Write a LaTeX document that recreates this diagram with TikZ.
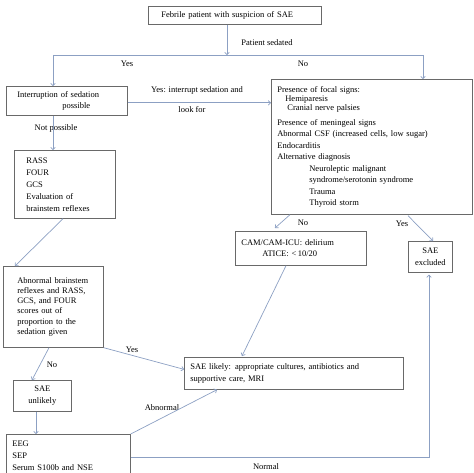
\documentclass[tikz,border=0pt]{standalone}
\usepackage{fontspec}
\setmainfont{Liberation Serif}
\usetikzlibrary{calc,arrows.meta}
\definecolor{boxgray}{RGB}{105,105,105}
\definecolor{flowblue}{RGB}{140,160,195}
\newcommand{\flowfont}{\fontsize{8.5}{11.5}\selectfont}

\begin{document}
\begin{tikzpicture}[x=1pt,y=-1pt,every node/.style={font=\flowfont,inner sep=0pt},
  box/.style={draw=boxgray,line width=0.7pt,anchor=north west,align=left,inner xsep=6pt},
  flowline/.style={draw=flowblue,line width=0.7pt},
  flow/.style={flowline,-{To[length=3pt,width=5pt]}}]
\useasboundingbox (0,0) rectangle (474,473);
% boxes
\node [box,text width=147pt,inner xsep=13pt,minimum height=18pt] (Febrile) at (148,6) {Febrile patient with suspicion of SAE};
\node [box,text width=99pt,inner xsep=11pt,minimum height=29pt] (Interrupt) at (6,86) {Interruption of sedation\\\hspace*{45pt}possible};
\node [box,text width=189pt,minimum height=135pt] (Focal) at (271,79) {Presence of focal signs:\\[-2.5pt]\hspace*{8pt}Hemiparesis\\[-2pt]\hspace*{10pt}Cranial nerve palsies\\[3pt]Presence of meningeal signs\\Abnormal CSF (increased cells, low sugar)\\Endocarditis\\Alternative diagnosis\\\hspace*{32pt}Neuroleptic malignant\\\hspace*{32pt}syndrome/serotonin syndrome\\\hspace*{32pt}Trauma\\\hspace*{32pt}Thyroid storm};
\node [box,text width=77pt,inner xsep=12pt,minimum height=68pt,font=\fontsize{8.5}{12}\selectfont] (Rass) at (14,150) {RASS\\FOUR\\GCS\\Evaluation of\\brainstem reflexes};
\node [box,text width=72pt,inner xsep=14pt,minimum height=81pt,font=\fontsize{8.5}{10.2}\selectfont] (Abnormal) at (3,266) {Abnormal brainstem\\reflexes and RASS,\\GCS, and FOUR\\scores out of\\proportion to the\\sedation given};
\node [box,text width=50pt,inner xsep=4pt,minimum height=31pt,align=center,font=\fontsize{8.5}{12}\selectfont] (Unlikely) at (13,380) {SAE\\unlikely};
\node [box,text width=112pt,minimum height=42pt,font=\fontsize{8.5}{12}\selectfont] (Eeg) at (6,434) {EEG\\SEP\\Serum S100b and NSE};
\node [box,text width=207pt,minimum height=32pt,font=\fontsize{8.5}{12}\selectfont] (Likely) at (184,357) {SAE likely: appropriate cultures, antibiotics and\\supportive care, MRI};
\node [box,text width=119pt,minimum height=34pt,font=\fontsize{8.5}{10.5}\selectfont] (Cam) at (235,231) {CAM/CAM-ICU: delirium\\\hspace*{21pt}ATICE: <\,10/20};
\node [box,text width=38pt,inner xsep=3pt,minimum height=31pt,align=center] (Excluded) at (408,241) {SAE\\excluded};
% labels
\node (PatSedated) at (267,43) {Patient sedated};
\node (YesSed) at (127,64) {Yes};
\node (NoSed) at (303,64) {No};
\node (YesInt) at (197,90) {Yes: interrupt sedation and};
\node (LookFor) at (192,110) {look for};
\node (NotPossible) at (56,128) {Not possible};
\node (NoAbn) at (52,365) {No};
\node (YesAbn) at (132,350) {Yes};
\node (AbnEeg) at (162,408) {Abnormal};
\node (NormEeg) at (266,467) {Normal};
\node (NoFocal) at (303,223) {No};
\node (YesFocal) at (402,224) {Yes};
% connectors
\coordinate (Split) at (227,55);
\coordinate (SplitL) at (53,55);
\coordinate (SplitR) at (423,55);
\coordinate (NormCorner) at (429,457);
\draw [flow] (Split |- Febrile.south) -- (Split);
\draw [flowline] (SplitL) -- (SplitR);
\draw [flow] (SplitL) -- (SplitL |- Interrupt.north);
\draw [flow] (SplitR) -- (SplitR |- Focal.north);
\draw [flow] ($(Interrupt.east)+(0,2)$) -- ($(Interrupt.east -| Focal.west)+(0,2)$);
\draw [flow] (SplitL |- Interrupt.south) -- (SplitL |- Rass.north);
\draw [flow] ($(Rass.south west)+(49,0)$) -- ($(Abnormal.north west)+(12,0)$);
\draw [flow] ($(Abnormal.south west)+(46,0)$) -- ($(Unlikely.north west)+(19,0)$);
\draw [flow] (Abnormal.south east) -- ($(Likely.west)+(0,-4)$);
\draw [flow] ($(Unlikely.south west)+(23,0)$) -- ($(Eeg.north west)+(30,0)$);
\draw [flow] (Eeg.north east) -- ($(Likely.south west)+(33,0)$);
\draw [flow] (Eeg.east |- NormCorner) -- (NormCorner) -- ($(NormCorner |- Excluded.south)+(0,2)$);
\draw [flow] ($(Focal.south west)+(19,0)$) -- ($(Cam.north west)+(40,-3)$);
\draw [flow] ($(Focal.south west)+(137,1)$) -- ($(Excluded.north west)+(25,0)$);
\draw [flow] ($(Cam.south west)+(51,0)$) -- ($(Likely.north west)+(58,-1)$);
\end{tikzpicture}
\end{document}
